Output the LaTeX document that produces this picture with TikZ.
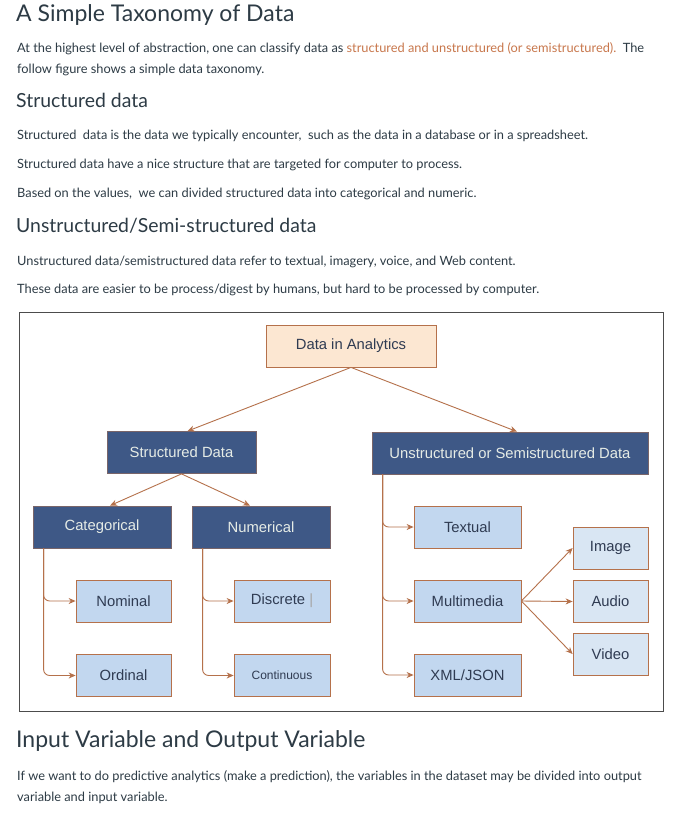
\documentclass[tikz,border=0pt]{standalone}
\usepackage{fontspec}
\setmainfont{Lato}
\newfontfamily\diafont{Liberation Sans}
\usepackage{tikz}
\usetikzlibrary{arrows.meta, calc, positioning}
\definecolor{pgtext}{HTML}{2D3B45}
\definecolor{pglink}{HTML}{C8774C}
\definecolor{txbrown}{HTML}{B5714B}
\definecolor{txpeach}{HTML}{FCE7D2}
\definecolor{txnavy}{HTML}{3E5886}
\definecolor{txsky}{HTML}{C2D7EF}
\definecolor{txpale}{HTML}{D9E6F3}
\definecolor{txlabel}{HTML}{2F3B52}
\definecolor{txcream}{HTML}{E6ECE6}
\tikzset{
  pgline/.style   = {anchor=base west, inner sep=0pt, text=pgtext,
                     font=\fontsize{12.8}{15}\selectfont},
  pghead/.style   = {pgline, font=\fontsize{19.4}{23}\selectfont},
  pgbig/.style    = {pgline, font=\fontsize{23}{27}\selectfont},
  pgtitle/.style  = {pgline, font=\fontsize{23}{27}\selectfont},
  taxbox/.style   = {rectangle, draw=txbrown, line width=0.8pt, inner sep=0pt,
                     minimum height=42pt, text=txlabel,
                     font=\diafont\fontsize{14.8}{17}\selectfont},
  rootbox/.style  = {taxbox, fill=txpeach, minimum width=170pt},
  groupbox/.style = {taxbox, fill=txnavy, draw=txbrown!50!txnavy, text=txcream},
  leafbox/.style  = {taxbox, fill=txsky},
  mediabox/.style = {taxbox, fill=txpale, minimum width=75pt},
  taxarrow/.style = {-{Stealth[length=7pt, width=6pt]}, draw=txbrown,
                     line width=0.9pt},
  taxbranch/.style = {taxarrow, rounded corners=6pt},
}

\begin{document}
\begin{tikzpicture}[x=1pt, y=-1pt]
  \useasboundingbox[fill=white] (0,0) rectangle (692,815);
  % page text above the figure
  \node[pgtitle] (title) at (16,21) {A Simple Taxonomy of Data};
  \node[pgline] (intro1) at (17,52) {At the highest level of abstraction, one can classify data as
    \textcolor{pglink}{structured and unstructured (or semistructured).}\ \ The};
  \node[pgline] (intro2) at (17,73) {follow figure shows a simple data taxonomy.};
  \node[pghead] (hstruc) at (16,107) {Structured data};
  \node[pgline] (struc1) at (17,139) {Structured\ \ data is the data we typically encounter,\ \ such as the data in a database or in a spreadsheet.};
  \node[pgline] (struc2) at (17,168) {Structured data have a nice structure that are targeted for computer to process.};
  \node[pgline] (struc3) at (17,197) {Based on the values,\ \ we can divided structured data into categorical and numeric.};
  \node[pghead] (hunstr) at (16,232) {Unstructured/Semi-structured data};
  \node[pgline] (unstr1) at (17,265) {Unstructured data/semistructured data refer to textual, imagery, voice, and Web content.};
  \node[pgline] (unstr2) at (17,293) {These data are easier to be process/digest by humans, but hard to be processed by computer.};

  % figure frame
  \draw[draw=black!70, line width=0.9pt] (19,312) rectangle (663,711);

  % taxonomy boxes
  \node[rootbox] (ana) at (351,346) {Data in Analytics};
  \node[groupbox, minimum width=149pt] (struc) at (181.5,452.5) {Structured Data};
  \node[groupbox, minimum width=276pt] (unstr) at (510,453) {Unstructured or Semistructured Data};
  \node[groupbox, minimum width=138pt] (cat) at (102,527) {Categorical};
  \node[groupbox, minimum width=138pt] (num) at (261,527) {Numerical};
  \node[leafbox, minimum width=95pt] (nom) at (123.5,601) {Nominal};
  \node[leafbox, minimum width=95pt] (ord) at (123.5,675.5) {Ordinal};
  \node[leafbox, minimum width=96pt] (disc) at (282,601) {Discrete \textcolor{black!35}{|}};
  \node[leafbox, minimum width=96pt, font=\diafont\fontsize{12}{14}\selectfont] (cont) at (282,675.5) {Continuous};
  \node[leafbox, minimum width=107pt] (textl) at (467.5,527) {Textual};
  \node[leafbox, minimum width=107pt] (mult) at (467.5,601) {Multimedia};
  \node[leafbox, minimum width=107pt] (xml) at (467.5,675) {XML/JSON};
  \node[mediabox] (img) at (610.5,548) {Image};
  \node[mediabox] (aud) at (610.5,601.5) {Audio};
  \node[mediabox] (vid) at (610.5,654) {Video};

  % connectors
  \draw[taxarrow] (ana.south) -- ([xshift=6pt]struc.north);
  \draw[taxarrow] (ana.south) -- ([xshift=7pt]unstr.north);
  \draw[taxarrow] (struc.south) -- ([xshift=8pt]cat.north);
  \draw[taxarrow] (struc.south) -- ([xshift=-11pt]num.north);
  \draw[taxbranch] ($(cat.south west)+(11,0)$) |- (nom.west);
  \draw[taxbranch] ($(cat.south west)+(11,0)$) |- (ord.west);
  \draw[taxbranch] ($(num.south west)+(11,0)$) |- (disc.west);
  \draw[taxbranch] ($(num.south west)+(11,0)$) |- (cont.west);
  \draw[taxbranch] ($(unstr.south west)+(11,0)$) |- (textl.west);
  \draw[taxbranch] ($(unstr.south west)+(11,0)$) |- (mult.west);
  \draw[taxbranch] ($(unstr.south west)+(11,0)$) |- (xml.west);
  \draw[taxarrow] (mult.east) -- (img.west);
  \draw[taxarrow] (mult.east) -- (aud.west);
  \draw[taxarrow] (mult.east) -- (vid.west);

  % page text below the figure
  \node[pgbig] (hinout) at (16,747) {Input Variable and Output Variable};
  \node[pgline] (inout1) at (17,780) {If we want to do predictive analytics (make a prediction), the variables in the dataset may be divided into output};
  \node[pgline] (inout2) at (17,801) {variable and input variable.};
\end{tikzpicture}
\end{document}
